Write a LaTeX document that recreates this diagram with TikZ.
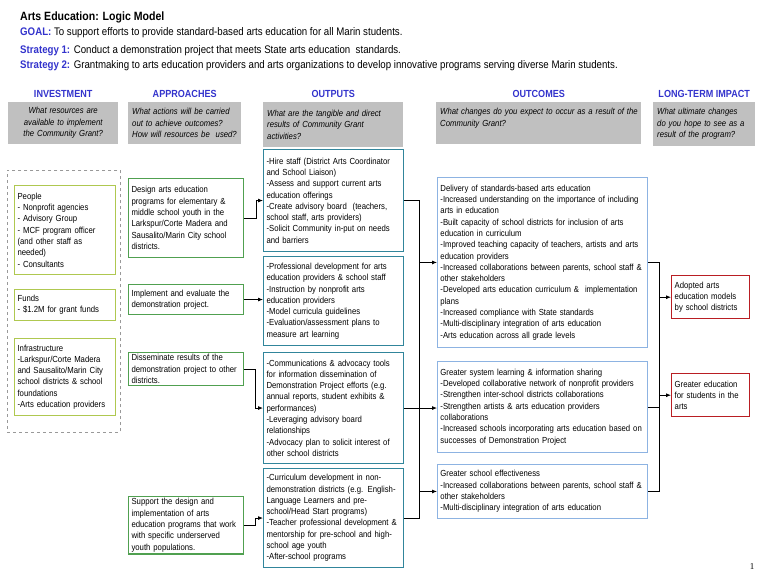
\documentclass[tikz,border=0pt]{standalone}
\usepackage{fontspec}
\setmainfont{Liberation Sans}[FakeStretch=0.88]
\newfontfamily\pgnumfont{Liberation Serif}
\usetikzlibrary{arrows.meta}
\definecolor{hblue}{RGB}{51,51,204}
\definecolor{hdrgray}{RGB}{192,192,192}
\definecolor{invgreen}{RGB}{175,200,80}
\definecolor{appgreen}{RGB}{80,160,80}
\definecolor{outteal}{RGB}{49,133,155}
\definecolor{ocblue}{RGB}{141,179,226}
\definecolor{impred}{RGB}{185,30,35}
\begin{document}
\begin{tikzpicture}[x=1pt,y=-1pt,
  txt/.style={anchor=base west, inner sep=0pt, font=\fontsize{11}{12}\selectfont},
  hdr/.style={anchor=base, inner sep=0pt, text=hblue, font=\bfseries\fontsize{10.3}{11}\selectfont},
  graybox/.style={fill=hdrgray, anchor=north west, inner xsep=4pt, inner ysep=5pt, align=left,
    font=\itshape\fontsize{8.8}{11.5}\selectfont},
  box/.style={draw, anchor=north west, align=left, inner xsep=3pt, inner ysep=2pt,
    font=\fontsize{8.8}{11.3}\selectfont},
  invbox/.style={box, draw=invgreen, line width=1.1pt},
  appbox/.style={box, draw=appgreen, line width=1.1pt},
  outbox/.style={box, draw=outteal, line width=1.1pt},
  ocbox/.style={box, draw=ocblue, line width=0.9pt},
  impbox/.style={box, draw=impred, line width=1.4pt},
  dashbox/.style={draw=gray!80, dashed, line width=0.8pt, anchor=north west},
  line/.style={draw=black, line width=0.8pt},
  arr/.style={line, -{Latex[length=5pt,width=4pt]}}
]
\useasboundingbox (0,0) rectangle (768,576);

% title and goals
\node[txt, font=\bfseries\fontsize{12}{13}\selectfont] (title) at (20,20) {Arts Education: Logic Model};
\node[txt] (goal) at (20,35) {\textcolor{hblue}{\bfseries GOAL:} To support efforts to provide standard-based arts education for all Marin students.};
\node[txt] (s1) at (20,53) {\textcolor{hblue}{\bfseries Strategy 1:} Conduct a demonstration project that meets State arts education\ \ standards.};
\node[txt] (s2) at (20,68) {\textcolor{hblue}{\bfseries Strategy 2:} Grantmaking to arts education providers and arts organizations to develop innovative programs serving diverse Marin students.};

% gray question boxes
\node[graybox, align=center, text width=102, minimum height=42] (gi) at (8,102)
  {What resources are\\available to implement\\the Community Grant?};
\node[graybox, text width=105, minimum height=42] (ga) at (128,102)
  {What actions will be carried\\out to achieve outcomes?\\How will resources be\ \ used?};
\node[graybox, text width=132, minimum height=45] (go) at (263,102)
  {What are the tangible and direct\\results of Community Grant\\activities?};
\node[graybox, text width=197, minimum height=42] (goc) at (436,102)
  {\mbox{What changes do you expect to occur as a result of the}\\Community Grant?\\\mbox{}};
\node[graybox, text width=94, minimum height=44] (gli) at (653,102)
  {What ultimate changes\\do you hope to see as a\\result of the program?};

% column headers
\node[hdr] (hi) at (gi.north |- 0,97) {INVESTMENT};
\node[hdr] (ha) at (ga.north |- 0,97) {APPROACHES};
\node[hdr] (ho) at (go.north |- 0,97) {OUTPUTS};
\node[hdr] (hoc) at (goc.north |- 0,97) {OUTCOMES};
\node[hdr] (hli) at (gli.north |- 0,97) {LONG-TERM IMPACT};

% investment
\node[dashbox, minimum width=113, minimum height=262] (inv) at (7,170) {};
\node[invbox, text width=95, minimum height=89] (people) at (14,185)
  {People\\- Nonprofit agencies\\- Advisory Group\\- MCF program officer\\(and other staff as\\needed)\\- Consultants};
\node[invbox, text width=95, minimum height=31] (funds) at (14,289)
  {Funds\\- \$1.2M for grant funds};
\node[invbox, text width=95, minimum height=77] (infra) at (14,338)
  {Infrastructure\\-Larkspur/Corte Madera\\and Sausalito/Marin City\\school districts \& school\\foundations\\-Arts education providers};

% approaches
\node[appbox, text width=109, minimum height=79] (a1) at (128,178)
  {Design arts education\\programs for elementary \&\\middle school youth in the\\Larkspur/Corte Madera and\\Sausalito/Marin City school\\districts.};
\node[appbox, text width=109, minimum height=30] (a2) at (128,284)
  {Implement and evaluate the\\demonstration project.};
\node[appbox, text width=109, minimum height=33] (a3) at (128,352)
  {Disseminate results of the\\demonstration project to other\\districts.};
\node[appbox, text width=109, minimum height=51] (a4) at (128,496)
  {Support the design and\\implementation of arts\\education programs that work\\with specific underserved\\youth populations.};

% outputs
\node[outbox, text width=134, minimum height=102] (o1) at (263,149)
  {-Hire staff (District Arts Coordinator\\and School Liaison)\\-Assess and support current arts\\education offerings\\-Create advisory board\ \ (teachers,\\school staff, arts providers)\\-Solicit Community in-put on needs\\and barriers};
\node[outbox, text width=134, minimum height=89] (o2) at (263,256)
  {-Professional development for arts\\education providers \& school staff\\-Instruction by nonprofit arts\\education providers\\-Model curricula guidelines\\-Evaluation/assessment plans to\\measure art learning};
\node[outbox, text width=134, minimum height=111] (o3) at (263,352)
  {-Communications \& advocacy tools\\for information dissemination of\\Demonstration Project efforts (e.g.\\annual reports, student exhibits \&\\performances)\\-Leveraging advisory board\\relationships\\-Advocacy plan to solicit interest of\\other school districts};
\node[outbox, text width=134, minimum height=99] (o4) at (263,468)
  {-Curriculum development in non-\\demonstration districts (e.g. English-\\Language Learners and pre-\\school/Head Start programs)\\-Teacher professional development \&\\mentorship for pre-school and high-\\school age youth\\-After-school programs};

% outcomes
\node[ocbox, text width=204, minimum height=170] (oc1) at (437,177)
  {Delivery of standards-based arts education\\-Increased understanding on the importance of including\\arts in education\\-Built capacity of school districts for inclusion of arts\\education in curriculum\\-Improved teaching capacity of teachers, artists and arts\\education providers\\-Increased collaborations between parents, school staff \&\\other stakeholders\\-Developed arts education curriculum \&\ \ implementation\\plans\\-Increased compliance with State standards\\-Multi-disciplinary integration of arts education\\-Arts education across all grade levels};
\node[ocbox, text width=204, minimum height=91] (oc2) at (437,361)
  {Greater system learning \& information sharing\\-Developed collaborative network of nonprofit providers\\-Strengthen inter-school districts collaborations\\-Strengthen artists \& arts education providers\\collaborations\\-Increased schools incorporating arts education based on\\successes of Demonstration Project};
\node[ocbox, text width=204, minimum height=54] (oc3) at (437,464)
  {Greater school effectiveness\\-Increased collaborations between parents, school staff \&\\other stakeholders\\-Multi-disciplinary integration of arts education};

% long-term impact
\node[impbox, text width=72, minimum height=43] (i1) at (671,275)
  {Adopted arts\\education models\\by school districts};
\node[impbox, text width=72, minimum height=43] (i2) at (671,373)
  {Greater education\\for students in the\\arts};

% connectors approaches -> outputs
\draw[arr] (a1.east) -- ++(12,0) |- (o1.west);
\draw[arr] (a2.east) -- (a2.east -| o2.west);
\draw[arr] (a3.east) -- ++(11,0) |- (o3.west);
\draw[arr] (a4.east) -- ++(11,0) |- (o4.west);

% outputs -> outcomes
\coordinate (busL) at (419,0);
\draw[line] (o1.east) -| (busL |- o4.east) -- (o4.east);
\draw[arr] (busL |- oc1.west) -- (oc1.west);
\draw[arr] (o3.east) -- (o3.east -| oc2.west);
\draw[arr] (busL |- oc3.west) -- (oc3.west);

% outcomes -> impact
\coordinate (busR) at (659,0);
\draw[line] (oc1.east) -| (busR |- oc3.east) -- (oc3.east);
\draw[line] (oc2.east) -- (oc2.east -| busR);
\draw[arr] (busR |- i1.west) -- (i1.west);
\draw[arr] (busR |- i2.west) -- (i2.west);

% page number
\node[anchor=base, inner sep=0pt, font=\pgnumfont\fontsize{9}{10}\selectfont] (pg) at (752,569) {1};
\end{tikzpicture}
\end{document}
